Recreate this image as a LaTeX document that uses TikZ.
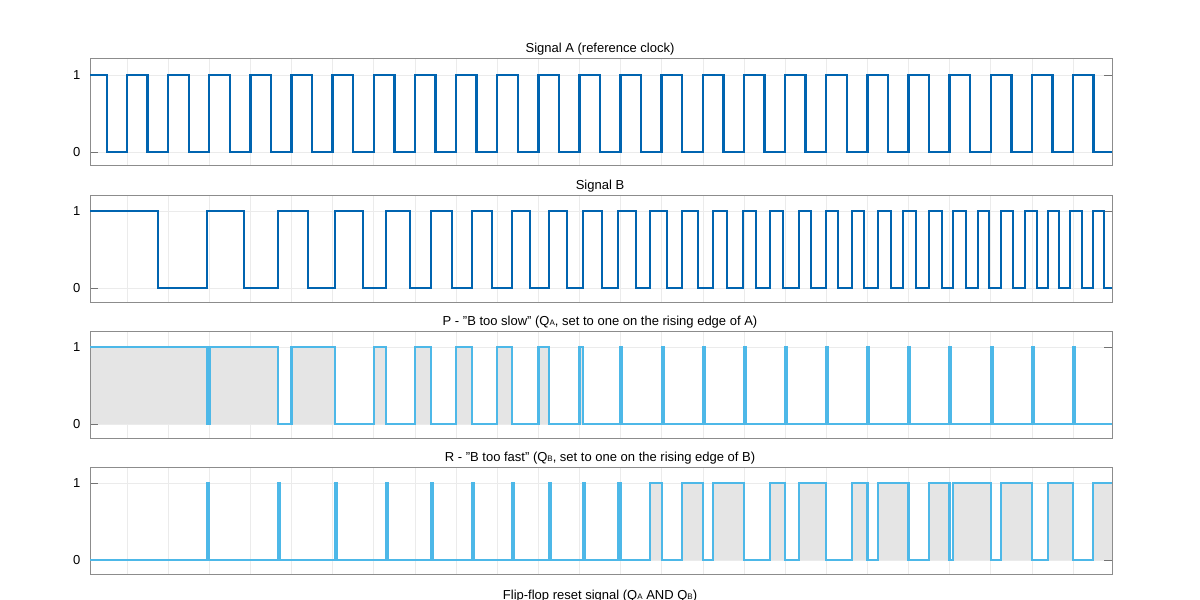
\documentclass[tikz,border=0pt]{standalone}
\usepackage{fontspec}
\setmainfont{Liberation Sans}
\definecolor{dblue}{RGB}{0,100,176}
\definecolor{lblue}{RGB}{77,184,232}
\definecolor{shadegray}{RGB}{229,229,229}
\newcommand{\qsub}[1]{\raisebox{-0.1ex}{\footnotesize #1}}
\begin{document}
\begin{tikzpicture}[x=1pt,y=-1pt,
  frame/.style={draw=black!45,line width=0.8pt},
  gridl/.style={draw=black!8,line width=0.6pt},
  tickm/.style={draw=black!55,line width=0.6pt},
  sigA/.style={draw=dblue,line width=2.4pt,line join=miter},
  sigP/.style={draw=lblue,line width=2.4pt,line join=miter},
  ttl/.style={font=\fontsize{13}{15}\selectfont,anchor=base},
  lvl/.style={font=\fontsize{13}{15}\selectfont,anchor=east}]
\useasboundingbox (0,0) rectangle (1200,600);
% panels: top, y1, y0, bottom
\foreach \t/\ya/\yb/\bt in {58/75/152/165,195/211/288/302,331/347/424/438,467/483/560/574}{
  \foreach \k in {0,...,23}{\draw[gridl] ({127+41.13*\k},\t) -- ({127+41.13*\k},\bt);}
  \draw[gridl] (90,\ya) -- (1112,\ya);
  \draw[gridl] (90,\yb) -- (1112,\yb);
  \draw[tickm] (90,\ya) -- (98,\ya) (90,\yb) -- (98,\yb) (1104,\ya) -- (1112,\ya) (1104,\yb) -- (1112,\yb);
  \node[lvl] (l1\t) at (84,\ya) {1};
  \node[lvl] (l0\t) at (84,\yb) {0};
}
% shading P
\foreach \s/\e in {90/207,209.3/278,291.5/335,373.8/386,414.9/431,456/472,497.2/512,538.3/549,579.4/583}
  {\fill[shadegray] (\s,347) rectangle (\e,424);}
% shading R
\foreach \s/\e in {618/620.6,650/661.7,682/702.8,713/744,770/785.1,799/826.2,852/867.3,878/908.5,929/949.6,953/990.7,1001/1031.9,1048/1073,1093/1112}
  {\fill[shadegray] (\s,483) rectangle (\e,560);}
% frames
\foreach \t/\bt in {58/165,195/302,331/438,467/574}{\draw[frame] (90,\t) rectangle (1112,\bt);}
% Signal A
\draw[sigA] (90,75) -- (107,75) -- (107,152)
  \foreach \k in {0,...,23}{ -- ({127+41.13*\k},152) -- ({127+41.13*\k},75) -- ({147.6+41.13*\k},75) -- ({147.6+41.13*\k},152)} -- (1112,152);
% Signal B
\draw[sigA] (90,211) -- (158,211) -- (158,288)
  \foreach \s/\e in {207/244,278/308,335/363,386/410,431/452,472/492,512/530,549/567,583/602,618/636,650/667,682/698,713/727,743/756,770/783,799/811,826/838,852/864,878/891,903/916,929/942,953/966,978/989,1001/1013,1025/1037,1048/1059,1070/1082,1093/1104}
  { -- (\s,288) -- (\s,211) -- (\e,211) -- (\e,288)} -- (1112,288);
% P
\draw[sigP] (90,347) -- (207,347) -- (207,424) -- (209.3,424)
  \foreach \s/\e in {209.3/278,291.5/335,373.8/386,414.9/431,456/472,497.2/512,538.3/549,579.4/583,620.6/622.2,661.7/663.3,702.8/704.4,744/745.6,785.1/786.7,826.2/827.8,867.3/868.9,908.5/910.1,949.6/951.2,990.7/992.3,1031.9/1033.5,1073/1074.6}
  { -- (\s,424) -- (\s,347) -- (\e,347) -- (\e,424)} -- (1112,424);
% R
\draw[sigP] (90,560)
  \foreach \s/\e in {207/208.6,278/279.6,335/336.6,386/387.6,431/432.6,472/473.6,512/513.6,549/550.6,583/584.6,618/620.6,650/661.7,682/702.8,713/744,770/785.1,799/826.2,852/867.3,878/908.5,929/949.6,953/990.7,1001/1031.9,1048/1073}
  { -- (\s,560) -- (\s,483) -- (\e,483) -- (\e,560)} -- (1093,560) -- (1093,483) -- (1112,483);
% titles
\node[ttl] (tA) at (600,52) {Signal A (reference clock)};
\node[ttl] (tB) at (600,189) {Signal B};
\node[ttl] (tP) at (600,325) {P - "B too slow" (Q\qsub{A}, set to one on the rising edge of A)};
\node[ttl] (tR) at (600,461) {R - "B too fast" (Q\qsub{B}, set to one on the rising edge of B)};
\node[ttl] (tF) at (600,599) {Flip-flop reset signal (Q\qsub{A} AND Q\qsub{B})};
\end{tikzpicture}
\end{document}
